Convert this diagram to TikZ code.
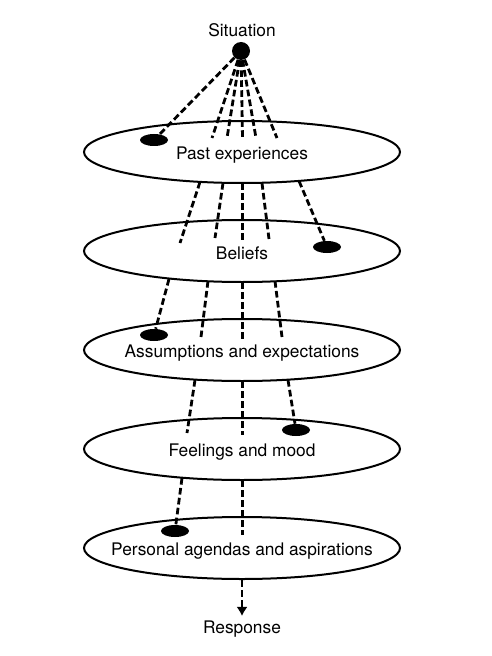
\documentclass[tikz,border=0pt]{standalone}
\usepackage{fontspec}
\setmainfont{TeX Gyre Heros}
\usetikzlibrary{shapes.geometric,positioning,arrows.meta}

\begin{document}
\begin{tikzpicture}[%
    x=0.75pt,
    y=-0.75pt,
    >={Latex[length=7pt,width=8.5pt]},
    node distance=74.25pt,
    on grid,
    layer/.style={ellipse,draw,line width=1.5pt,minimum width=237pt,
        minimum height=46.5pt,inner sep=0pt,
        label={[lbl,yshift=-2pt]center:#1}},
    blob/.style={ellipse,fill,minimum width=21pt,minimum height=9pt,inner sep=0pt},
    link/.style={line width=2.1pt,dash pattern=on 5pt off 2.5pt},
    lbl/.style={font=\fontsize{13}{15}\selectfont}
    ]
    \useasboundingbox (0,0) rectangle (492,656);

    \node[lbl] (sitlabel) at (242,30) {Situation};
    \node[circle,fill,minimum size=13.5pt,inner sep=0pt] (situation) at (241,51) {};

    \node[layer=Past experiences] (past) at (242,152) {};
    \node[layer=Beliefs] (beliefs) [below=of past] {};
    \node[layer=Assumptions and expectations] (assumptions) [below=of beliefs] {};
    \node[layer=Feelings and mood] (feelings) [below=of assumptions] {};
    \node[layer=Personal agendas and aspirations] (agendas) [below=of feelings] {};
    \node[lbl] (response) at (242,629) {Response};

    \node[blob] (b1) at (154,140) {};
    \node[blob] (b2) at (327,247) {};
    \node[blob] (b3) at (154,335) {};
    \node[blob] (b4) at (296,430) {};
    \node[blob] (b5) at (175,531) {};

    % situation -> past experiences
    \coordinate (p1) at (212,138);
    \coordinate (p2) at (227,138);
    \coordinate (p3) at (242.5,138);
    \coordinate (p4) at (256,138);
    \coordinate (p5) at (277,138);
    \draw[link] (situation) -- (b1);
    \draw[link] (situation) -- (p1);
    \draw[link] (situation) -- (p2);
    \draw[link] (situation) -- (p3);
    \draw[link] (situation) -- (p4);
    \draw[link] (situation) -- (p5);

    % past experiences -> beliefs
    \coordinate (pa) at (200,182);
    \coordinate (pb) at (223,183);
    \coordinate (pc) at (242.5,183);
    \coordinate (pd) at (262,183);
    \coordinate (pe) at (299,181);
    \coordinate (q1) at (180,243);
    \coordinate (q2) at (215,238);
    \coordinate (q3) at (242.5,240);
    \coordinate (q4) at (269,239);
    \draw[link] (pa) -- (q1);
    \draw[link] (pb) -- (q2);
    \draw[link] (pc) -- (q3);
    \draw[link] (pd) -- (q4);
    \draw[link] (pe) -- (b2);

    % beliefs -> assumptions
    \coordinate (qa) at (169,279);
    \coordinate (qb) at (208,281);
    \coordinate (qc) at (242.5,282);
    \coordinate (qd) at (275,281);
    \coordinate (r2) at (201,337);
    \coordinate (r3) at (242.5,339);
    \coordinate (r4) at (282,337);
    \draw[link] (qa) -- (b3);
    \draw[link] (qb) -- (r2);
    \draw[link] (qc) -- (r3);
    \draw[link] (qd) -- (r4);

    % assumptions -> feelings
    \coordinate (ra) at (195,380);
    \coordinate (rb) at (242.5,381);
    \coordinate (rc) at (288,380);
    \coordinate (s1) at (187,433);
    \coordinate (s2) at (242.5,435);
    \draw[link] (ra) -- (s1);
    \draw[link] (rb) -- (s2);
    \draw[link] (rc) -- (b4);

    % feelings -> agendas
    \coordinate (sa) at (182,478);
    \coordinate (sb) at (242.5,480);
    \coordinate (t2) at (242.5,535);
    \draw[link] (sa) -- (b5);
    \draw[link] (sb) -- (t2);

    % agendas -> response
    \draw[link,->] (agendas) -- (response);
\end{tikzpicture}
\end{document}
